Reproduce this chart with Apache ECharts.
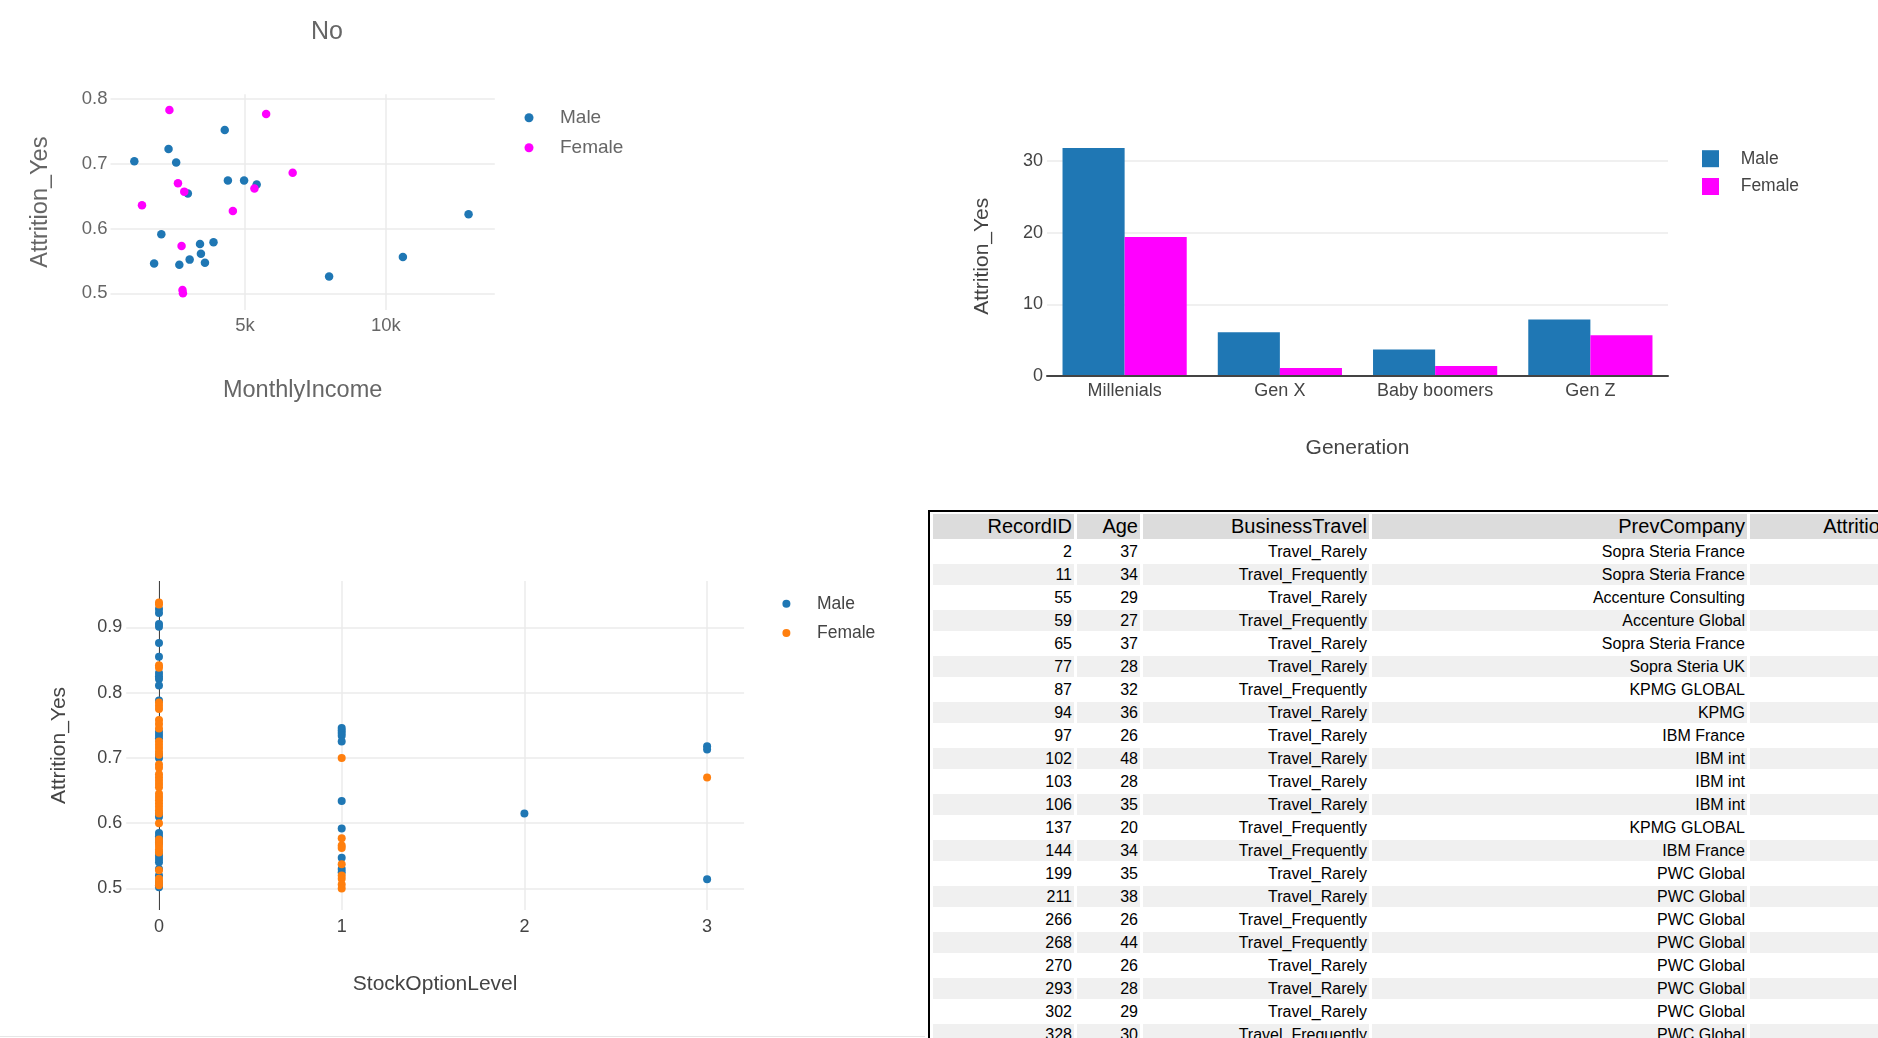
<!DOCTYPE html>
<html>
<head>
<meta charset="utf-8">
<script src="https://cdn.jsdelivr.net/npm/echarts@6/dist/echarts.min.js"></script>
<style>
html,body{margin:0;padding:0;width:1878px;height:1038px;overflow:hidden;background:#fff;}
#chart{position:absolute;left:0;top:0;width:1878px;height:1038px;}
#tbox{position:absolute;left:928px;top:510px;border:2px solid #000;background:#fff;}
#tbox table{border-collapse:separate;border-spacing:3px 2px;font-family:Arial,"Liberation Sans",sans-serif;color:#000;table-layout:fixed;width:966px;}
#tbox th{background:#dcdcdc;font-size:20px;font-weight:normal;height:25px;padding:0 2px;text-align:right;box-sizing:border-box;white-space:nowrap;overflow:hidden;}
#tbox td{font-size:16px;height:21px;padding:0 2px;text-align:right;box-sizing:border-box;white-space:nowrap;overflow:hidden;}
#tbox tbody tr:nth-child(even) td{background:#f0f0f0;}
#sep{position:absolute;left:0;top:1036px;width:925px;height:0;border-top:1px solid #e6e6e6;}
</style>
</head>
<body>
<div id="chart"></div>
<div id="sep"></div>
<div id="tbox"><table id="tbl"><thead><tr id="thead"></tr></thead><tbody id="tbody"></tbody></table></div>
<script>
// ---------- Data ----------
// Top-left scatter: MonthlyIncome vs Attrition_Yes (title "No")
const incomeMale = [[1070,0.704],[2285,0.723],[2556,0.702],[4281,0.752],[4393,0.674],[4968,0.674],[5415,0.668],[2971,0.654],[2029,0.591],[1773,0.546],[2668,0.544],[3035,0.552],[3403,0.576],[3435,0.561],[3882,0.579],[3578,0.547],[7987,0.526],[10607,0.556],[12939,0.622]];
const incomeFemale = [[2316,0.783],[5751,0.777],[6693,0.686],[2620,0.670],[2843,0.657],[1342,0.636],[4569,0.627],[5335,0.662],[2748,0.573],[2780,0.505],[2796,0.500]];
const incomeTicks = [5000, 10000];
const attrTicksA = [0.5, 0.6, 0.7, 0.8];

// Bar chart: Generation vs Attrition_Yes
const generations = ['Millenials', 'Gen X', 'Baby boomers', 'Gen Z'];
const barMale = [31.8, 6.1, 3.7, 7.9];
const barFemale = [19.4, 1.1, 1.4, 5.7];
const barTicks = [0, 10, 20, 30];

// Bottom-left scatter: StockOptionLevel vs Attrition_Yes
const stockMale0 = [0.928,0.922,0.905,0.901,0.876,0.855,0.83,0.825,0.821,0.811,0.788,0.74,0.735,0.73,0.705,0.70,0.615,0.61,0.585,0.58,0.575,0.57,0.555,0.55,0.545,0.54,0.53,0.52,0.51,0.505,0.502];
const stockMale1 = [0.746,0.742,0.738,0.734,0.725,0.634,0.592,0.547,0.53,0.525];
const stockMale2 = [0.615];
const stockMale3 = [0.718,0.713,0.514];
const stockFemale0 = [0.938,0.935,0.842,0.838,0.785,0.78,0.775,0.758,0.752,0.745,0.725,0.72,0.715,0.71,0.705,0.69,0.685,0.675,0.67,0.665,0.66,0.655,0.645,0.64,0.635,0.63,0.625,0.62,0.615,0.60,0.575,0.57,0.565,0.56,0.555,0.528,0.515,0.51,0.505];
const stockFemale1 = [0.70,0.577,0.566,0.562,0.537,0.52,0.515,0.506,0.50];
const stockFemale2 = [];
const stockFemale3 = [0.670];
const stockTicks = [0, 1, 2, 3];
const attrTicksC = [0.5, 0.6, 0.7, 0.8, 0.9];

// Table
const tableColumns = ['RecordID', 'Age', 'BusinessTravel', 'PrevCompany', 'Attrition'];
const recordIds = [2,11,55,59,65,77,87,94,97,102,103,106,137,144,199,211,266,268,270,293,302,328];
const ages = [37,34,29,27,37,28,32,36,26,48,28,35,20,34,35,38,26,44,26,28,29,30];
const travel = ['Travel_Rarely','Travel_Frequently','Travel_Rarely','Travel_Frequently','Travel_Rarely','Travel_Rarely','Travel_Frequently','Travel_Rarely','Travel_Rarely','Travel_Rarely','Travel_Rarely','Travel_Rarely','Travel_Frequently','Travel_Frequently','Travel_Rarely','Travel_Rarely','Travel_Frequently','Travel_Frequently','Travel_Rarely','Travel_Rarely','Travel_Rarely','Travel_Frequently'];
const prevCompany = ['Sopra Steria France','Sopra Steria France','Accenture Consulting','Accenture Global','Sopra Steria France','Sopra Steria UK','KPMG GLOBAL','KPMG','IBM France','IBM int','IBM int','IBM int','KPMG GLOBAL','IBM France','PWC Global','PWC Global','PWC Global','PWC Global','PWC Global','PWC Global','PWC Global','PWC Global'];

// ---------- Table build ----------
const colWidths = [141, 63, 226, 375, 143];
const thead = document.getElementById('thead');
tableColumns.forEach((c, i) => {
  const th = document.createElement('th');
  th.textContent = c;
  th.style.width = colWidths[i] + 'px';
  thead.appendChild(th);
});
const tbody = document.getElementById('tbody');
recordIds.forEach((id, i) => {
  const tr = document.createElement('tr');
  [id, ages[i], travel[i], prevCompany[i], ''].forEach(v => {
    const td = document.createElement('td');
    td.textContent = v;
    tr.appendChild(td);
  });
  tbody.appendChild(tr);
});

// ---------- Chart ----------
const FONT = 'Arial, "Liberation Sans", sans-serif';
const C_BLUE = '#1f77b4', C_MAG = '#ff00ff', C_ORANGE = '#ff7f0e';
const GRID_C = '#ebebeb';
const toPairs = (lvl, arr) => arr.map(v => [lvl, v]);
const stockMale = [].concat(toPairs(0, stockMale0), toPairs(1, stockMale1), toPairs(2, stockMale2), toPairs(3, stockMale3));
const stockFemale = [].concat(toPairs(0, stockFemale0), toPairs(1, stockFemale1), toPairs(2, stockFemale2), toPairs(3, stockFemale3));
const legendFmt = n => n.split('|')[0];

const chart = echarts.init(document.getElementById('chart'), null, {renderer: 'canvas'});
const option = {
  animation: false,
  textStyle: {fontFamily: FONT},
  graphic: [
    {type: 'text', x: 327, y: 32, style: {text: 'No', align: 'center', verticalAlign: 'middle', fontSize: 25, fontFamily: FONT, fill: '#666'}}
  ],
  grid: [
    {left: 110.5, top: 94.3, width: 384.3, height: 215.7},
    {left: 1047, top: 136.6, width: 621, height: 239.4},
    {left: 126.2, top: 581, width: 617.9, height: 329}
  ],
  legend: [
    {orient: 'vertical', left: 524.5, top: 107.7, padding: 0, itemWidth: 9, itemHeight: 9, itemGap: 10, icon: 'circle',
     formatter: legendFmt, data: ['Male|a', 'Female|a'],
     textStyle: {fontSize: 19, color: '#666', lineHeight: 20, padding: [0, 0, 0, 21.5]}},
    {orient: 'vertical', left: 1702, top: 148.7, padding: 0, itemWidth: 17, itemHeight: 17, itemGap: 7.8, icon: 'rect',
     formatter: legendFmt, data: ['Male|b', 'Female|b'],
     textStyle: {fontSize: 17.5, color: '#444', lineHeight: 20, padding: [0, 0, 0, 16.7]}},
    {orient: 'vertical', left: 782.4, top: 593.7, padding: 0, itemWidth: 8, itemHeight: 8, itemGap: 9.3, icon: 'circle',
     formatter: legendFmt, data: ['Male|c', 'Female|c'],
     textStyle: {fontSize: 17.5, color: '#444', lineHeight: 20, padding: [0, 0, 0, 21.6]}}
  ],
  xAxis: [
    {gridIndex: 0, type: 'value', min: 224, max: 13871,
     axisLine: {show: false, onZero: false}, axisTick: {show: false, customValues: incomeTicks},
     axisLabel: {customValues: incomeTicks, formatter: v => (v / 1000) + 'k', fontSize: 18.5, color: '#666', margin: 6},
     splitLine: {show: true, lineStyle: {color: GRID_C, width: 1.5}},
     name: 'MonthlyIncome', nameLocation: 'middle', nameGap: 69, nameTextStyle: {fontSize: 23.5, color: '#666'}},
    {gridIndex: 1, type: 'category', data: generations, z: 3,
     axisLine: {show: true, onZero: false, lineStyle: {color: '#444', width: 2}}, axisTick: {show: false},
     axisLabel: {fontSize: 18, color: '#444', margin: 6}, splitLine: {show: false},
     name: 'Generation', nameLocation: 'middle', nameGap: 61.5, nameTextStyle: {fontSize: 21, color: '#444'}},
    {gridIndex: 2, type: 'value', min: -0.1795, max: 3.2025,
     axisLine: {show: false, onZero: false}, axisTick: {show: false, customValues: stockTicks},
     axisLabel: {customValues: stockTicks, fontSize: 18, color: '#444', margin: 8},
     splitLine: {show: true, lineStyle: {color: GRID_C, width: 1.5}},
     name: 'StockOptionLevel', nameLocation: 'middle', nameGap: 63.5, nameTextStyle: {fontSize: 21, color: '#444'}}
  ],
  yAxis: [
    {gridIndex: 0, type: 'value', min: 0.4742, max: 0.8073,
     axisLine: {show: false, onZero: false}, axisTick: {show: false, customValues: attrTicksA},
     axisLabel: {customValues: attrTicksA, formatter: v => v.toFixed(1), fontSize: 18.5, color: '#666', margin: 3},
     splitLine: {show: true, lineStyle: {color: GRID_C, width: 1.5}},
     name: 'Attrition_Yes', nameLocation: 'middle', nameGap: 58, nameTextStyle: {fontSize: 23.5, color: '#666'}},
    {gridIndex: 1, type: 'value', min: 0, max: 33.4,
     axisLine: {show: false, onZero: false}, axisTick: {show: false, customValues: barTicks},
     axisLabel: {customValues: barTicks, fontSize: 18, color: '#444', margin: 4},
     splitLine: {show: true, lineStyle: {color: GRID_C, width: 1.5}},
     name: 'Attrition_Yes', nameLocation: 'middle', nameGap: 54.5, nameTextStyle: {fontSize: 21, color: '#444'}},
    {gridIndex: 2, type: 'value', min: 0.467, max: 0.971,
     axisLine: {show: false, onZero: false}, axisTick: {show: false, customValues: attrTicksC},
     axisLabel: {customValues: attrTicksC, formatter: v => v.toFixed(1), fontSize: 18, color: '#444', margin: 4},
     splitLine: {show: true, lineStyle: {color: GRID_C, width: 1.5}},
     name: 'Attrition_Yes', nameLocation: 'middle', nameGap: 56.8, nameTextStyle: {fontSize: 21, color: '#444'}}
  ],
  series: [
    {name: 'Male|a', type: 'scatter', xAxisIndex: 0, yAxisIndex: 0, data: incomeMale, symbolSize: 8.5, itemStyle: {color: C_BLUE, opacity: 1}},
    {name: 'Female|a', type: 'scatter', xAxisIndex: 0, yAxisIndex: 0, data: incomeFemale, symbolSize: 8.5, itemStyle: {color: C_MAG, opacity: 1}},
    {name: 'Male|b', type: 'bar', xAxisIndex: 1, yAxisIndex: 1, data: barMale, barGap: '0%', barCategoryGap: '20%',
     itemStyle: {color: C_BLUE}},
    {name: 'Female|b', type: 'bar', xAxisIndex: 1, yAxisIndex: 1, data: barFemale, barGap: '0%', barCategoryGap: '20%',
     itemStyle: {color: C_MAG}},
    {name: 'zero', type: 'scatter', xAxisIndex: 2, yAxisIndex: 2, data: [], z: 1, silent: true,
     markLine: {silent: true, z: 1, symbol: 'none', label: {show: false}, animation: false,
                lineStyle: {color: '#444', width: 1, type: 'solid'}, data: [{xAxis: 0}]}},
    {name: 'Male|c', type: 'scatter', xAxisIndex: 2, yAxisIndex: 2, data: stockMale, symbolSize: 8, z: 3, itemStyle: {color: C_BLUE, opacity: 1}},
    {name: 'Female|c', type: 'scatter', xAxisIndex: 2, yAxisIndex: 2, data: stockFemale, symbolSize: 8, z: 4, itemStyle: {color: C_ORANGE, opacity: 1}}
  ]
};
chart.setOption(option);
</script>
</body>
</html>
